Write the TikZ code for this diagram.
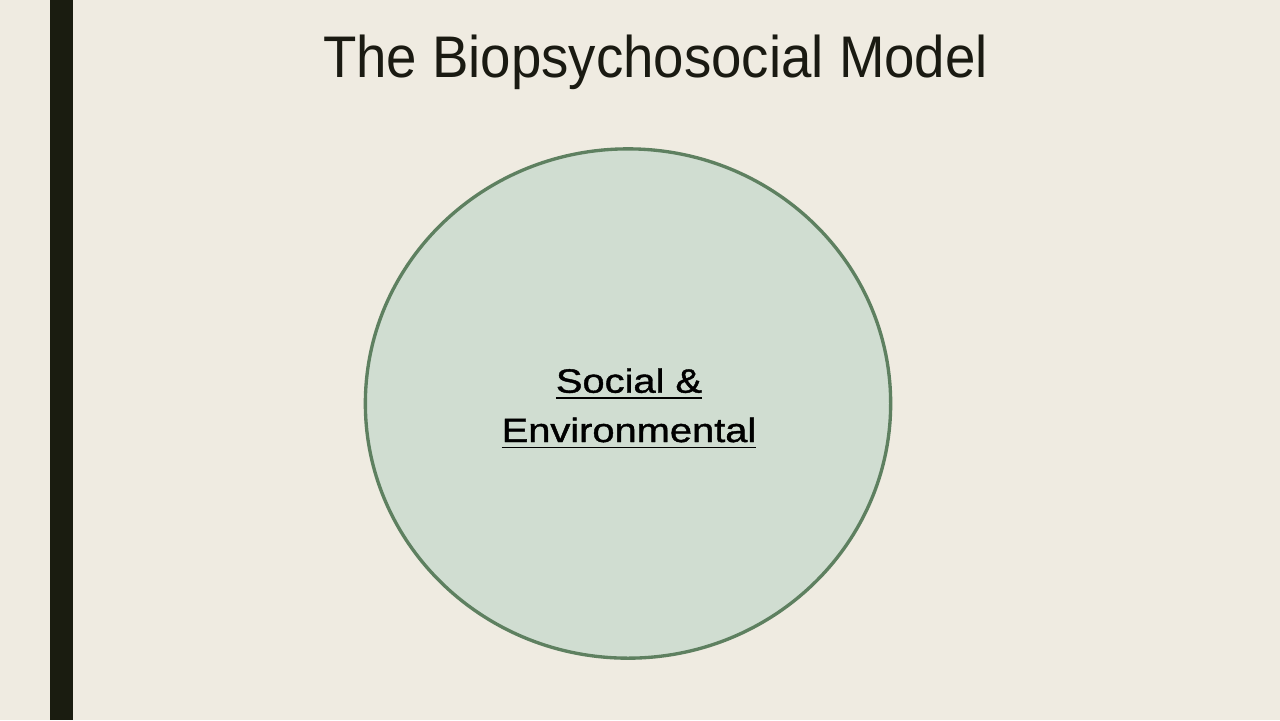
\documentclass[tikz,border=0pt]{standalone}
\usepackage{fontspec}
\setmainfont{Liberation Sans}
\newfontfamily\titlefont[FakeStretch=0.93]{Liberation Sans}
\newfontfamily\labelfont[FakeStretch=1.18,FakeBold=1.2]{Liberation Sans}
\usetikzlibrary{shapes.geometric}

\definecolor{slidebg}{HTML}{EFEBE1}
\definecolor{barcol}{HTML}{1A1C10}
\definecolor{circfill}{HTML}{D0DDD1}
\definecolor{circline}{HTML}{5E8060}
\definecolor{inkcol}{HTML}{1A1A12}

\begin{document}
\begin{tikzpicture}[x=0.01cm, y=-0.01cm,
    title/.style={anchor=base, inner sep=0, text=inkcol, font=\titlefont\fontsize{16.7}{20}\selectfont},
    label/.style={anchor=base, inner sep=0, text=black, font=\labelfont\fontsize{9.6}{14}\selectfont}]
            % slide background and left bar
            \fill[slidebg] (0,0) rectangle (1280,720);
            \fill[barcol] (50,0) rectangle (73,720);

            \node[title] (T) at (655.5,77) {The Biopsychosocial Model};

            \node[draw=circline, fill=circfill, ellipse, line width=0.95pt, inner sep=0,
                  minimum width=5.25cm, minimum height=5.09cm] (S) at (628,403.5) {};

            \node[label] (L1) at (629,392.7) {\underline{Social \&}};
            \node[label] (L2) at (629,442) {\underline{Environmental}};
        \end{tikzpicture}
\end{document}
